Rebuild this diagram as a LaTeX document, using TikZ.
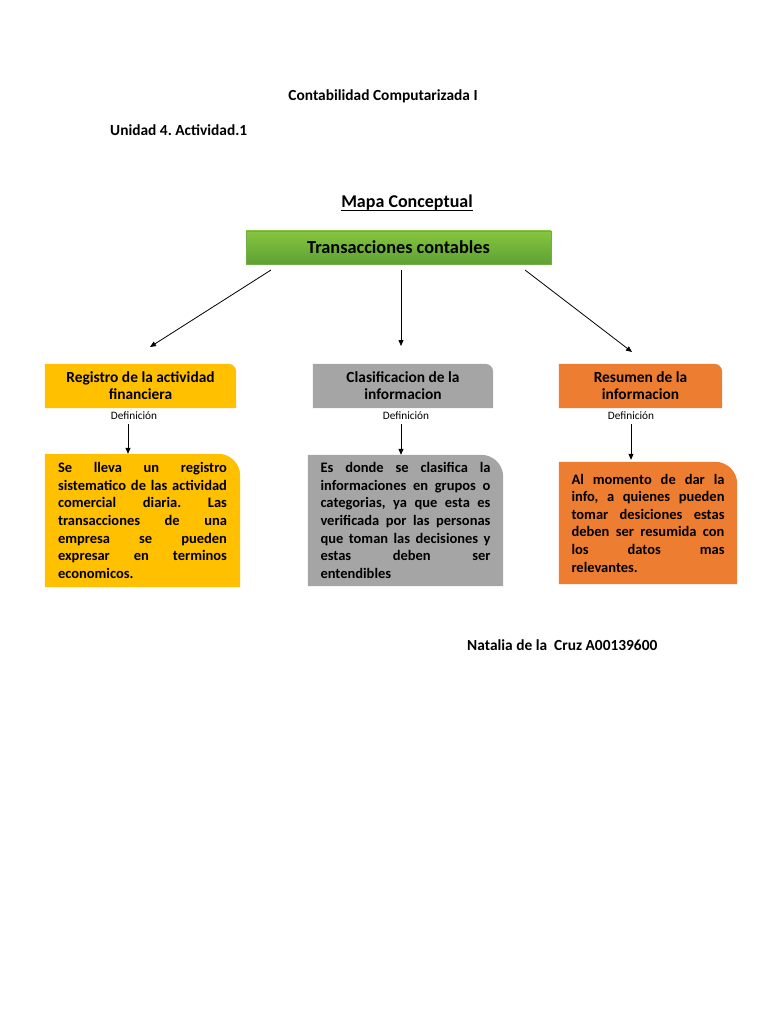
\documentclass[tikz,border=0pt]{standalone}
\usepackage{fontspec}
\setmainfont{Carlito}
\usetikzlibrary{arrows.meta,backgrounds}
\definecolor{cyel}{HTML}{FFC000}
\definecolor{cgray}{HTML}{A5A5A5}
\definecolor{corg}{HTML}{ED7D31}
\definecolor{cgtop}{HTML}{86C440}
\definecolor{cgbot}{HTML}{5EA233}
\definecolor{cgbord}{HTML}{6FAE47}
\newcommand\trfill[3]{\fill[#2] (#1.south west) -- (#1.north west) -- ([xshift=-#3]#1.north east) arc[start angle=90,end angle=0,radius=#3] -- (#1.south east) -- cycle;}
\newcommand\jline[2]{{\frenchspacing\spaceskip=0pt\xspaceskip=0pt\makebox[#1][s]{#2}}}
\newcommand\nline[1]{{\frenchspacing\spaceskip=0pt\xspaceskip=0pt #1}}
\tikzset{
  body/.style={font=\bfseries\fontsize{15.4}{17}\selectfont},
  headbox/.style={body,align=center,inner sep=0pt,minimum height=44pt},
  descbox/.style={font=\bfseries\fontsize{14.5}{17.6}\selectfont,align=left,inner xsep=0pt,inner ysep=0pt},
  deflab/.style={font=\fontsize{11.3}{13}\selectfont,inner sep=0pt},
  arr/.style={-{Triangle[length=6pt,width=5pt]},line width=0.8pt,black},
}
\begin{document}
\frenchspacing
\begin{tikzpicture}[x=1pt,y=1pt]
\useasboundingbox (0,0) rectangle (768,-1024);
\node[body] (title) at (383,-96) {Contabilidad Computarizada I};
\node[body,anchor=west,inner sep=0pt] (unidad) at (110,-130) {\nline{Unidad 4. Actividad.1}};
\node[font=\bfseries\fontsize{18}{20}\selectfont,inner sep=0pt] (mapa) at (407,-203) {Mapa Conceptual};
\draw[line width=1pt] ([yshift=-2.5pt]mapa.base west) -- ([yshift=-2.5pt]mapa.base east);
\node[draw=cgbord,line width=0.6pt,top color=cgtop,bottom color=cgbot,minimum width=305pt,minimum height=33pt,inner sep=0pt,font=\bfseries\fontsize{18.3}{20}\selectfont] (root) at (398.5,-247.5) {Transacciones contables};

\node[headbox,minimum width=191pt] (h1) at (140.5,-386) {\nline{Registro de la actividad}\\\nline{financiera}};
\node[headbox,minimum width=180pt] (h2) at (403,-386) {\nline{Clasificacion de la}\\\nline{informacion}};
\node[headbox,minimum width=163pt] (h3) at (640.5,-386) {\nline{Resumen de la}\\\nline{informacion}};

\node[deflab] (d1) at (134,-416) {Definición};
\node[deflab] (d2) at (406,-416) {Definición};
\node[deflab] (d3) at (631,-416) {Definición};

\node[descbox,text width=169pt,minimum width=195pt,minimum height=133pt] (b1) at (142.5,-520.5) {%
\jline{169pt}{Se lleva un registro}\\
\jline{169pt}{sistematico de las actividad}\\
\jline{169pt}{comercial diaria. Las}\\
\jline{169pt}{transacciones de una}\\
\jline{169pt}{empresa se pueden}\\
\jline{169pt}{expresar en terminos}\\
\nline{economicos.}};
\node[descbox,text width=170pt,minimum width=195pt,minimum height=131pt] (b2) at (405.5,-520.5) {%
\jline{170pt}{Es donde se clasifica la}\\
\jline{170pt}{informaciones en grupos o}\\
\jline{170pt}{categorias, ya que esta es}\\
\jline{170pt}{verificada por las personas}\\
\jline{170pt}{que toman las decisiones y}\\
\jline{170pt}{estas deben ser}\\
\nline{entendibles}};
\node[descbox,text width=153pt,minimum width=178pt,minimum height=122pt] (b3) at (648,-523) {%
\jline{153pt}{Al momento de dar la}\\
\jline{153pt}{info, a quienes pueden}\\
\jline{153pt}{tomar desiciones estas}\\
\jline{153pt}{deben ser resumida con}\\
\jline{153pt}{los datos mas}\\
\nline{relevantes.}};

\node[body,anchor=west,inner sep=0pt] (autor) at (467,-645) {Natalia de la\ \ Cruz A00139600};

\begin{scope}[on background layer]
\trfill{h1}{cyel}{8pt}
\trfill{h2}{cgray}{8pt}
\trfill{h3}{corg}{8pt}
\trfill{b1}{cyel}{22pt}
\trfill{b2}{cgray}{22pt}
\trfill{b3}{corg}{22pt}
\end{scope}

\coordinate (s1) at (271,-270);
\coordinate (e1) at (150,-347);
\coordinate (s2) at (401,-270);
\coordinate (e2) at (401,-346);
\coordinate (s3) at (525,-270);
\coordinate (e3) at (632,-352);
\draw[arr] (s1) -- (e1);
\draw[arr] (s2) -- (e2);
\draw[arr] (s3) -- (e3);

\draw[arr] ([xshift=-6pt,yshift=-4pt]d1.south) -- ([xshift=-6pt]d1.south |- b1.north);
\draw[arr] ([xshift=-5pt,yshift=-4pt]d2.south) -- ([xshift=-5pt]d2.south |- b2.north);
\draw[arr] ([yshift=-4pt]d3.south) -- ([yshift=2pt]d3.south |- b3.north);
\end{tikzpicture}
\end{document}
